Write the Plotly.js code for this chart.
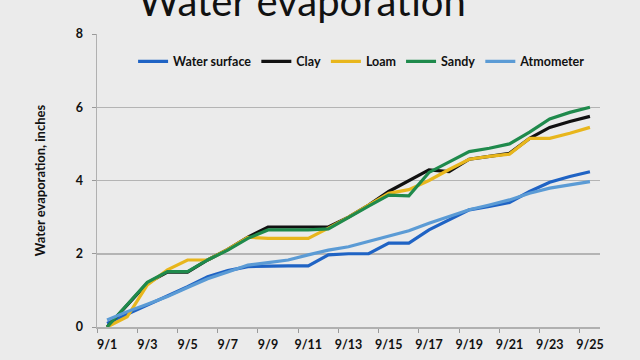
<!DOCTYPE html>
<html>
<head>
<meta charset="utf-8">
<script src="https://cdn.plot.ly/plotly-3.0.1.min.js"></script>
<style>html,body{margin:0;padding:0;background:#ebebeb;}#chart{width:640px;height:360px;}</style>
</head>
<body>
<div id="chart"></div>
<script>
const days = ['9/1','9/2','9/3','9/4','9/5','9/6','9/7','9/8','9/9','9/10','9/11','9/12','9/13','9/14','9/15','9/16','9/17','9/18','9/19','9/20','9/21','9/22','9/23','9/24','9/25'];
const waterSurface = [0.1,0.35,0.6,0.83,1.1,1.37,1.54,1.65,1.67,1.67,1.67,1.97,2.0,2.0,2.29,2.29,2.65,2.92,3.2,3.29,3.4,3.7,3.95,4.11,4.24];
const clay = [0,0.6,1.2,1.5,1.5,1.83,2.12,2.45,2.73,2.73,2.73,2.73,3.0,3.33,3.7,4.0,4.29,4.24,4.58,4.66,4.74,5.15,5.45,5.61,5.75];
const loam = [0,0.28,1.15,1.56,1.83,1.83,2.12,2.45,2.42,2.42,2.42,2.7,3.0,3.33,3.65,3.75,4.0,4.3,4.58,4.66,4.72,5.15,5.15,5.29,5.45];
const sandy = [0,0.6,1.22,1.51,1.51,1.83,2.1,2.42,2.65,2.65,2.65,2.68,3.0,3.3,3.6,3.58,4.22,4.5,4.79,4.88,5.0,5.32,5.68,5.86,6.0];
const atmometer = [0.19,0.42,0.62,0.83,1.08,1.32,1.5,1.69,1.76,1.83,1.97,2.1,2.19,2.33,2.49,2.63,2.83,3.01,3.2,3.33,3.47,3.65,3.79,3.88,3.97];

const seriesNames = ['Water surface','Clay','Loam','Sandy','Atmometer'];
const seriesValues = [waterSurface, clay, loam, sandy, atmometer];
const seriesColors = ['#1f63c4','#111111','#e8b61c','#1f8a4c','#5b9bd5'];

const traces = seriesNames.map((n,i)=>({
  type:'scatter', mode:'lines', name:n, x:days, y:seriesValues[i],
  line:{color:seriesColors[i], width:3.2}
}));

const layout = {
  width:640, height:360,
  paper_bgcolor:'#ebebeb', plot_bgcolor:'#ebebeb',
  margin:{l:97, r:40, t:34, b:33},
  font:{family:'Lato, "Open Sans", sans-serif', color:'#222'},
  title:{text:'Water evaporation', font:{size:40, color:'#111', family:'Lato, sans-serif'}, x:0.472, xanchor:'center', yref:'container', y:0.955, yanchor:'bottom'},
  showlegend:true,
  legend:{orientation:'h', x:0.527, xanchor:'center', y:0.905, yanchor:'middle', bgcolor:'rgba(0,0,0,0)',
    font:{size:12.5, color:'#111', family:'Lato, sans-serif', weight:'bold'}, itemwidth:30, tracegroupgap:0},
  xaxis:{type:'category', tickmode:'linear', tick0:0, dtick:2, tickson:'boundaries', tickangle:0,
    ticks:'outside', ticklen:4, tickcolor:'#999', showline:true, linecolor:'#b0b0b0', linewidth:1.5,
    showgrid:false, zeroline:false, range:[-0.5,24.5], ticklabelstandoff:5,
    tickfont:{size:12.5, color:'#111', family:'Lato, sans-serif', weight:'bold'}},
  yaxis:{range:[0,8], tickvals:[0,2,4,6,8], ticks:'outside', ticklen:4, tickcolor:'#999',
    showline:true, linecolor:'#b0b0b0', linewidth:1.5, gridcolor:'#b4b4b4', gridwidth:1.5, zeroline:false,
    ticklabelstandoff:6,
    tickfont:{size:12.5, color:'#111', family:'Lato, sans-serif', weight:'bold'},
    title:{text:'Water evaporation, inches', standoff:27, font:{size:13, color:'#111', family:'Lato, sans-serif', weight:'bold'}}}
};

Plotly.newPlot('chart', traces, layout, {displayModeBar:false, staticPlot:true});
</script>
</body>
</html>
